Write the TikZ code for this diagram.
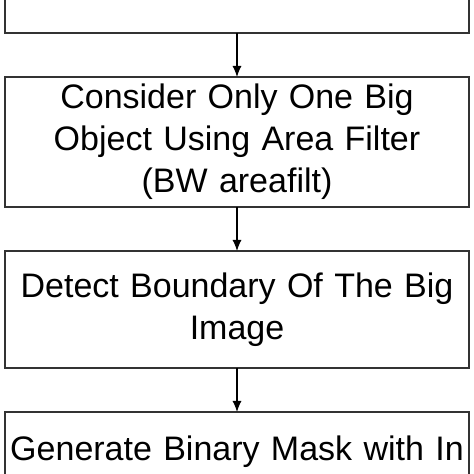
\documentclass[tikz,border=0pt]{standalone}
\usepackage{fontspec}
\setmainfont{Liberation Sans}
\usepackage{tikz}
\usetikzlibrary{arrows.meta, positioning}

\begin{document}
\begin{tikzpicture}[x=1pt, y=1pt, node distance=44pt, auto,
                % Define styles
                stage/.style={rectangle, draw=black!80, line width=1.4pt, fill=white, minimum width=464pt, text width=460pt, text centered, inner sep=0pt, outer sep=0pt, font=\fontsize{34}{42}\selectfont},
                line/.style={draw, -{Latex[length=11pt, width=9pt]}, line width=1.1pt}
            ]

            % --- Frame ---
            \useasboundingbox (0,0) rectangle (474,474);
            \clip (0,0) rectangle (474,474);

            % --- Nodes ---

            % 1. Previous step (cut at the top)
            \node [stage, minimum height=80pt] (binarize) at (237,481) {};

            % 2. Area filter
            \node [stage, below=of binarize, minimum height=130pt] (areafilt) {Consider Only One Big\\Object Using Area Filter\\(BW areafilt)};

            % 3. Boundary
            \node [stage, below=of areafilt, minimum height=117pt] (boundary) {Detect Boundary Of The Big\\Image};

            % 4. Mask (cut at the bottom)
            \node [stage, below=of boundary, minimum height=80pt] (mask) {Generate Binary Mask with In};

            % --- Edges ---
            \path [line] (binarize) -- (areafilt);
            \path [line] (areafilt) -- (boundary);
            \path [line] (boundary) -- (mask);

        \end{tikzpicture}
\end{document}
